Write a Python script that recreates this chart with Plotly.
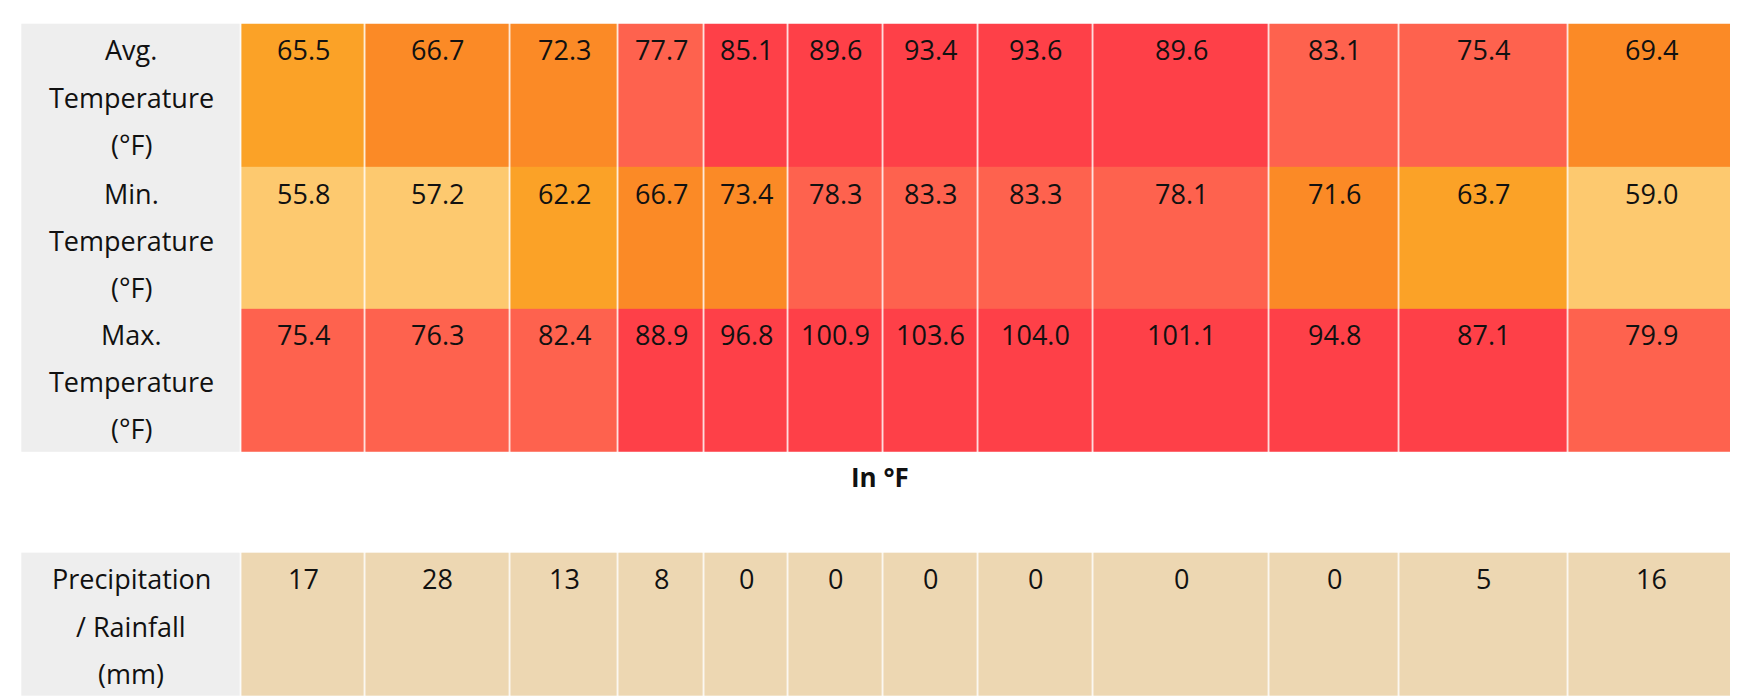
import plotly.graph_objects as go

months_edges = [12, 210, 322, 452, 550, 627, 703, 788, 874, 977, 1136, 1253, 1405, 1555]
row_labels = [["Avg.", "Temperature", "(°F)"], ["Min.", "Temperature", "(°F)"], ["Max.", "Temperature", "(°F)"]]
avg_temp = [65.5, 66.7, 72.3, 77.7, 85.1, 89.6, 93.4, 93.6, 89.6, 83.1, 75.4, 69.4]
min_temp = [55.8, 57.2, 62.2, 66.7, 73.4, 78.3, 83.3, 83.3, 78.1, 71.6, 63.7, 59.0]
max_temp = [75.4, 76.3, 82.4, 88.9, 96.8, 100.9, 103.6, 104.0, 101.1, 94.8, 87.1, 79.9]
precip_label = ["Precipitation", "/ Rainfall", "(mm)"]
precip = [17, 28, 13, 8, 0, 0, 0, 0, 0, 0, 5, 16]
unit_title = "In °F"

colors = ["#EEEEEE", "#FDC96F", "#FBA227", "#FB8A26", "#FE624E", "#FE4048", "#EDD7B2"]
def bin_of(v):
    if v < 60: return 1
    if v < 66: return 2
    if v < 75: return 3
    if v < 85: return 4
    return 5
cs = []
n = len(colors)
for i, c in enumerate(colors):
    cs.append([i / n, c]); cs.append([(i + 1) / n, c])

temps = [avg_temp, min_temp, max_temp]
z = [[0] + [bin_of(v) for v in row] for row in temps]
fig = go.Figure()
fig.add_trace(go.Heatmap(x=months_edges, y=[35, 353, 667, 985], z=z, colorscale=cs, zmin=-0.5, zmax=n - 0.5,
                         showscale=False, xgap=1.5, hoverinfo="skip"))
fig.add_trace(go.Heatmap(x=months_edges, y=[1210, 1527], z=[[0] + [6] * len(precip)], colorscale=cs,
                         zmin=-0.5, zmax=n - 0.5, showscale=False, xgap=1.5, hoverinfo="skip"))

font = dict(family="Open Sans", size=27, color="#111")
centers = [(months_edges[i] + months_edges[i + 1]) / 2 for i in range(len(months_edges) - 1)]
tops = [35, 353, 667]
def add_text(x, y, t, **kw):
    fig.add_annotation(x=x, y=y, text=t, showarrow=False, font=kw.get("font", font), xanchor="center", yanchor="middle")

for r, top in enumerate(tops):
    for k, line in enumerate(row_labels[r]):
        add_text(centers[0], top + 58 + k * 105, line)
    for j, v in enumerate(temps[r]):
        add_text(centers[j + 1], top + 58, f"{v:.1f}")
for k, line in enumerate(precip_label):
    add_text(centers[0], 1210 + 58 + k * 105, line)
for j, v in enumerate(precip):
    add_text(centers[j + 1], 1210 + 58, str(v))
add_text(785, 1042, f"<b>{unit_title}</b>", font=dict(family="Open Sans", size=26, color="#111"))

fig.update_xaxes(range=[0, 1565], visible=False, showgrid=False)
fig.update_yaxes(range=[1555, 0], visible=False, showgrid=False)
fig.update_layout(width=1738, height=700, margin=dict(l=0, r=0, t=0, b=0),
                  plot_bgcolor="white", paper_bgcolor="white")
fig.write_html("out.html")
